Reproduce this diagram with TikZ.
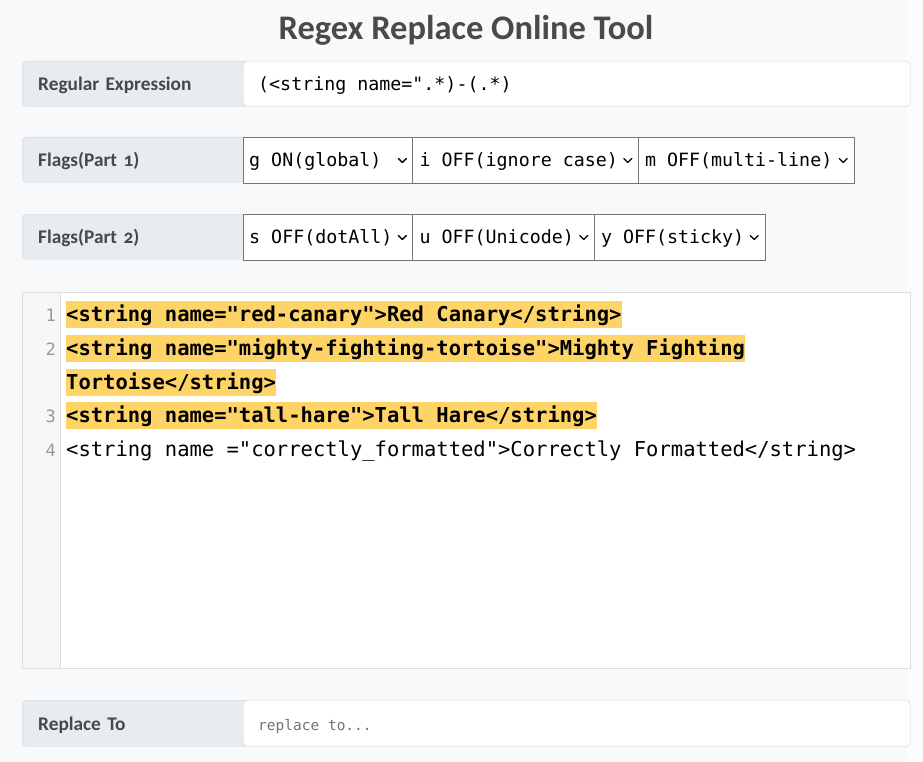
\documentclass[tikz,border=0pt]{standalone}
\usepackage{fontspec}
\setmainfont{Carlito}
\setmonofont{DejaVu Sans Mono}
\newfontfamily\labelfont[Numbers=OldStyle]{Carlito}
\usetikzlibrary{positioning,calc}
\definecolor{pagebg}{HTML}{F8F9FB}
\definecolor{stripbg}{HTML}{FBFCFD}
\definecolor{titlegray}{HTML}{4A4A4A}
\definecolor{lblgray}{HTML}{E9ECEF}
\definecolor{lbltext}{HTML}{43494F}
\definecolor{bordergray}{HTML}{CED4DA}
\definecolor{selgray}{HTML}{767676}
\definecolor{edborder}{HTML}{DDDDDD}
\definecolor{guttergray}{HTML}{F7F7F7}
\definecolor{lnumgray}{HTML}{999999}
\definecolor{hlyellow}{HTML}{FFD466}
\definecolor{placegray}{HTML}{6C757D}

\begin{document}
\begin{tikzpicture}[x=1pt, y=-1pt]
\tikzset{
    lblbox/.style={rectangle, rounded corners=4, draw=bordergray, fill=lblgray, text=lbltext, anchor=north west, minimum height=45, text width=196pt, inner xsep=16pt, text height=18pt, text depth=4pt, font=\labelfont\bfseries\fontsize{19.3}{23}\selectfont},
    inbox/.style={rectangle, rounded corners=4, draw=bordergray, fill=white, anchor=north west, minimum height=45, minimum width=667},
    intext/.style={inner sep=0pt, text height=18pt, text depth=4pt, font=\ttfamily\fontsize{18.3}{22}\selectfont},
    selbox/.style={rectangle, draw=selgray, fill=white, minimum height=46, minimum width=#1, anchor=west},
    seltext/.style={inner sep=0pt, text height=17pt, text depth=4pt, font=\ttfamily\fontsize{18.3}{22}\selectfont},
    chev/.style={line width=1.3pt, line cap=round, line join=round},
    codeline/.style={anchor=west, fill=hlyellow, inner xsep=0pt, inner ysep=0pt, minimum height=27, text height=17pt, text depth=4pt, font=\ttfamily\bfseries\fontsize{20.5}{24}\selectfont},
    lnum/.style={anchor=east, inner sep=0pt, text=lnumgray, text height=17pt, text depth=4pt, font=\ttfamily\fontsize{17}{20}\selectfont}
}
\fill[pagebg] (0,0) rectangle (923,762);
\fill[stripbg] (906,0) rectangle (923,762);
\useasboundingbox (0,0) rectangle (923,762);

\node[font=\bfseries\fontsize{34.5}{40}\selectfont, text=titlegray] (title) at (466,30) {Regex Replace Online Tool};

% regular expression row
\node[lblbox] (regexlbl) at (22,61) {Regular Expression};
\node[inbox] (regexin) at (243,61) {};
\node[intext, right=15pt of regexin.west] (regextext) {(<string name=".*)-(.*)};

% flags, first part
\node[lblbox] (flags1lbl) at (22,137) {Flags(Part 1)};
\node[selbox=170] (gflag) at (243,160) {};
\node[selbox=226, right=-1pt of gflag] (iflag) {};
\node[selbox=216, right=-1pt of iflag] (mflag) {};
\node[seltext, right=6pt of gflag.west] (gtext) {g ON(global)};
\node[seltext, right=7pt of iflag.west] (itext) {i OFF(ignore case)};
\node[seltext, right=7pt of mflag.west] (mtext) {m OFF(multi-line)};

% flags, second part
\node[lblbox] (flags2lbl) at (22,214) {Flags(Part 2)};
\node[selbox=170] (sflag) at (243,237) {};
\node[selbox=182, right=-1pt of sflag] (uflag) {};
\node[selbox=171, right=-1pt of uflag] (yflag) {};
\node[seltext, right=6pt of sflag.west] (stext) {s OFF(dotAll)};
\node[seltext, right=7pt of uflag.west] (utext) {u OFF(Unicode)};
\node[seltext, right=7pt of yflag.west] (ytext) {y OFF(sticky)};

\foreach \f in {gflag,iflag,mflag,sflag,uflag,yflag}
    \draw[chev] ([shift={(-15,-1.5)}]\f.east) -- ++(4,4) -- ++(4,-4);

% text area with gutter
\node[draw=edborder, fill=white, anchor=north west, inner sep=0pt, minimum width=888, minimum height=376] (editor) at (22,292) {};
\fill[guttergray] ([shift={(0.5,0.5)}]editor.north west) rectangle (60,667.5);
\draw[edborder] (60,292.5) -- (60,667.5);

\node[codeline] (code1) at (66,314.5) {<string name="red-canary">Red Canary</string>};
\node[codeline] (code2a) at (66,348.5) {<string name="mighty-fighting-tortoise">Mighty Fighting\ };
\node[codeline] (code2b) at (66,382.5) {Tortoise</string>};
\node[codeline] (code3) at (66,415.5) {<string name="tall-hare">Tall Hare</string>};
\node[codeline, fill=none, font=\ttfamily\fontsize{20.5}{24}\selectfont] (code4) at (66,449.5) {<string name ="correctly\_formatted">Correctly Formatted</string>};

\node[lnum] (num1) at (56,314.5) {1};
\node[lnum] (num2) at (56,348.5) {2};
\node[lnum] (num3) at (56,415.5) {3};
\node[lnum] (num4) at (56,449.5) {4};

% replacement row
\node[lblbox, minimum height=46] (replacelbl) at (22,700) {Replace To};
\node[inbox, minimum height=46] (replacein) at (243,700) {};
\node[intext, text=placegray, font=\ttfamily\fontsize{14.5}{17}\selectfont, right=15pt of replacein.west] (replacetext) {replace to...};
\end{tikzpicture}
\end{document}
